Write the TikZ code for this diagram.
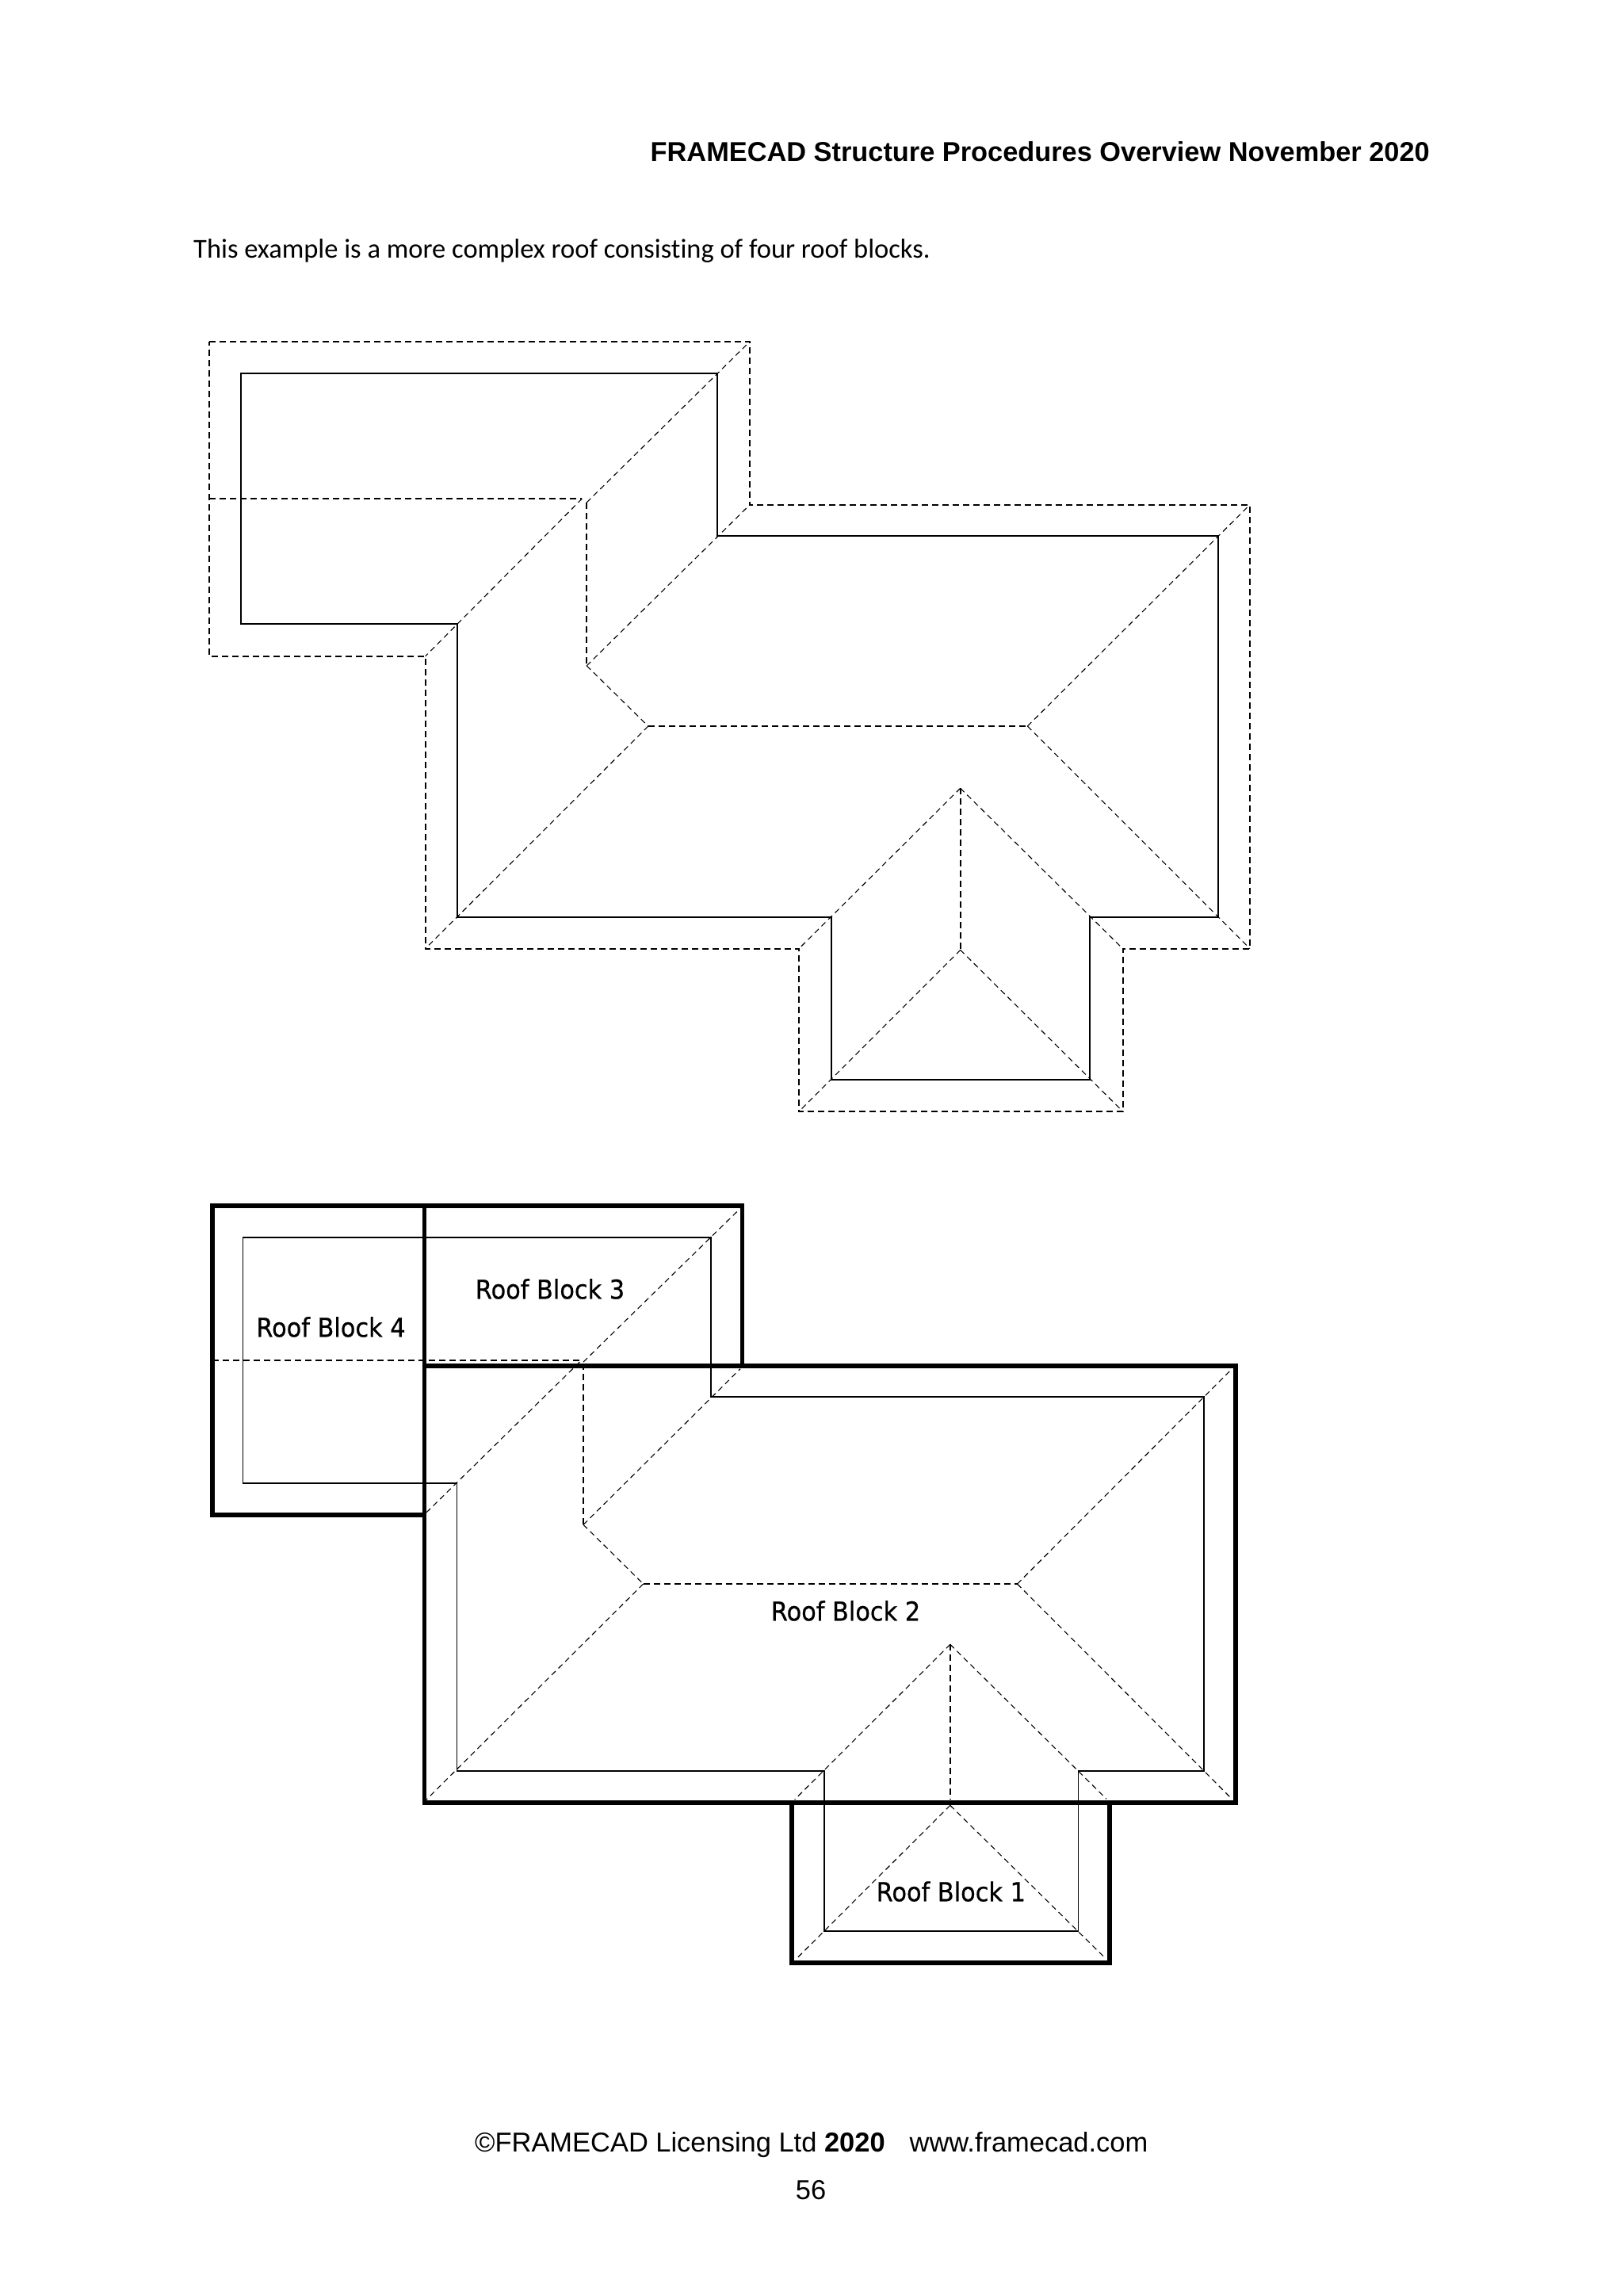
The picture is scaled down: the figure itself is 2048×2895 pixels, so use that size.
\documentclass[tikz,border=0pt]{standalone}
\usepackage{fontspec}
\setmainfont{Liberation Sans}
\newfontfamily\bodyfont[Ligatures=NoCommon]{Carlito}
\newfontfamily\labelfont[FakeStretch=0.92,FakeBold=0.6]{DejaVu Sans}
\tikzset{
  outline/.style={line width=1.9pt,black,line join=miter},
  eaves/.style={line width=2pt,black,dash pattern=on 8pt off 5pt},
  ridge/.style={line width=1.7pt,black,dash pattern=on 8pt off 5pt},
  hip/.style={line width=1.1pt,black,dash pattern=on 7pt off 5pt},
  block/.style={line width=5.6pt,black,line join=miter},
  thinline/.style={line width=1.7pt,black},
  header/.style={inner sep=0pt,font=\fontsize{34.35}{36}\selectfont\bfseries},
  bodytext/.style={inner sep=0pt,font=\bodyfont\fontsize{34.5}{36}\selectfont},
  foot/.style={inner sep=0pt,font=\fontsize{34.45}{36}\selectfont},
  blocklabel/.style={inner sep=0pt,font=\labelfont\fontsize{33}{36}\selectfont}
}
\begin{document}
\begin{tikzpicture}[x=1pt,y=-1pt]
\useasboundingbox (0,0) rectangle (2048,2895);
\fill[white] (0,0) rectangle (2048,2895);
\node[header,anchor=mid east] (head) at (1804,201) {FRAMECAD Structure Procedures Overview November 2020};
\node[bodytext,anchor=mid west] (intro) at (244,323) {This example is a more complex roof consisting of four roof blocks.};
% --- upper plan
\draw[outline] (304,471)--(904.6,471)--(904.6,676.2)--(1536.6,676.2)--(1536.6,1156.7)--(1375.4,1156.7)--(1375.4,1362)--(1049.2,1362)--(1049.2,1156.7)--(577.4,1156.7)--(577.4,787.4)--(304,787.4)--cycle;
\draw[eaves] (264.2,430.7)--(946.2,430.7)--(946.2,636.6)--(1577,636.6)--(1577,1196.7)--(1416.6,1196.7)--(1416.6,1402)--(1008,1402)--(1008,1196.7)--(536.7,1196.7)--(536.7,827.7)--(264.2,827.7)--cycle;
\draw[ridge] (264.2,629)--(734.4,629);
\draw[ridge] (817.8,916)--(1296.4,916);
\draw[ridge] (740.2,633.8)--(740.2,839.8);
\draw[ridge] (1211.7,994.3)--(1211.7,1198.3);
\draw[hip] (734.4,629)--(536.7,827.7);
\draw[hip] (740.2,633.8)--(946.2,430.7);
\draw[hip] (740.2,839.8)--(946.2,636.6);
\draw[hip] (740.2,839.8)--(817.8,916);
\draw[hip] (817.8,916)--(536.7,1196.7);
\draw[hip] (1296.4,916)--(1577,636.6);
\draw[hip] (1296.4,916)--(1577,1196.7);
\draw[hip] (1211.7,994.3)--(1008,1196.7);
\draw[hip] (1211.7,994.3)--(1416.6,1196.7);
\draw[hip] (1211.7,1198.3)--(1008,1402);
\draw[hip] (1211.7,1198.3)--(1416.6,1402);
% --- lower plan
\draw[thinline] (306.6,1560.7)--(897,1560.7)--(897,1762.3)--(1519,1762.3)--(1519,2234)--(1360.5,2234)--(1360.5,2436.3)--(1040.3,2436.3)--(1040.3,2234)--(576.6,2234)--(576.6,1871.3)--(306.6,1871.3)--cycle;
\draw[ridge] (268,1716)--(731.4,1716);
\draw[ridge] (811.6,1998)--(1283.5,1998);
\draw[ridge] (736,1720)--(736,1923.3);
\draw[ridge] (1198.8,2074.3)--(1198.8,2270);
\draw[hip] (731.4,1718)--(537.9,1908);
\draw[hip] (736,1718)--(933.3,1525);
\draw[hip] (736,1923.3)--(934,1726.7);
\draw[hip] (736,1923.3)--(811.6,1998);
\draw[hip] (811.6,1998)--(538,2270);
\draw[hip] (1283.5,1998)--(1554,1727);
\draw[hip] (1283.5,1998)--(1554,2269);
\draw[hip] (1198.8,2074.3)--(1002.7,2270);
\draw[hip] (1198.8,2074.3)--(1396,2269.3);
\draw[hip] (1198.8,2277.3)--(1006.7,2469);
\draw[hip] (1198.8,2277.3)--(1393.4,2469);
% roof block outlines
\draw[block] (268,1521) rectangle (535.5,1910.7);
\draw[block] (535.5,1521) rectangle (936.6,1722.7);
\draw[block] (535.5,1722.7) rectangle (1558.7,2273.7);
\draw[block] (998.7,2273.7) rectangle (1400,2476);
\node[blocklabel] (rb3) at (694,1626) {Roof Block 3};
\node[blocklabel] (rb4) at (417.5,1674) {Roof Block 4};
\node[blocklabel] (rb2) at (1067,2032) {Roof Block 2};
\node[blocklabel] (rb1) at (1199.8,2386) {Roof Block 1};
% footer
\node[foot,anchor=mid west] (foot) at (599,2712) {©FRAMECAD Licensing Ltd \textbf{2020}\hspace{0.9em}www.framecad.com};
\node[foot] (page) at (1023,2763) {56};
\end{tikzpicture}
\end{document}
